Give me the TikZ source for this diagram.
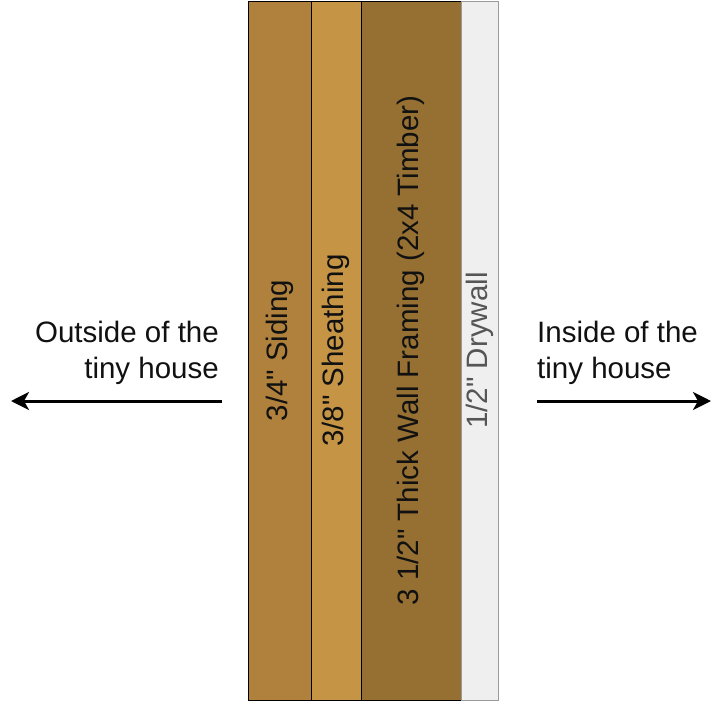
\documentclass[tikz,border=0pt]{standalone}
\usepackage{fontspec}
\setmainfont{Liberation Sans}
\newfontfamily\labelfont{Liberation Sans}
\usetikzlibrary{arrows.meta}
\definecolor{sidingc}{HTML}{B0813C}
\definecolor{sheathc}{HTML}{C59445}
\definecolor{framec}{HTML}{967032}
\definecolor{dryc}{HTML}{EFEFEF}
\definecolor{dryline}{HTML}{9A9A9A}
\definecolor{drytext}{HTML}{555555}
\definecolor{txt}{HTML}{111111}
\begin{document}
\begin{tikzpicture}[x=1pt,y=-1pt,
  layerbox/.style={draw=black, line width=1pt, rotate=90, minimum height=699pt,
    inner sep=0pt, text=txt, font=\labelfont\fontsize{29.5}{35}\selectfont},
  sidelabel/.style={inner sep=0pt, text=txt, font=\labelfont\fontsize{29.5}{36}\selectfont},
  dirarrow/.style={line width=3pt, -{Stealth[length=18pt,width=18pt,inset=5pt]}}]
\useasboundingbox (0,0) rectangle (723,702);
\node[layerbox, fill=sidingc, minimum width=699pt, minimum height=63pt] (siding) at (279.5,350.5) {3/4" Siding};
\node[layerbox, fill=sheathc, minimum width=699pt, minimum height=50pt] (sheath) at (336,350.5) {3/8" Sheathing};
\node[layerbox, fill=framec, minimum width=699pt, minimum height=100pt] (frame) at (411,350.5) {3 1/2" Thick Wall Framing (2x4 Timber)};
\node[layerbox, draw=dryline, fill=dryc, text=drytext, minimum width=699pt, minimum height=37pt] (dry) at (479.5,350.5) {1/2" Drywall};
\node[sidelabel, align=right, anchor=north east] (outside) at (219,321) {Outside of the\\tiny house};
\node[sidelabel, align=left, anchor=north west] (inside) at (537,321) {Inside of the\\tiny house};
\coordinate (ls) at (222,401);
\coordinate (le) at (11,401);
\coordinate (rs) at (537,401);
\coordinate (re) at (711,401);
\draw[dirarrow] (ls) -- (le);
\draw[dirarrow] (rs) -- (re);
\end{tikzpicture}
\end{document}
